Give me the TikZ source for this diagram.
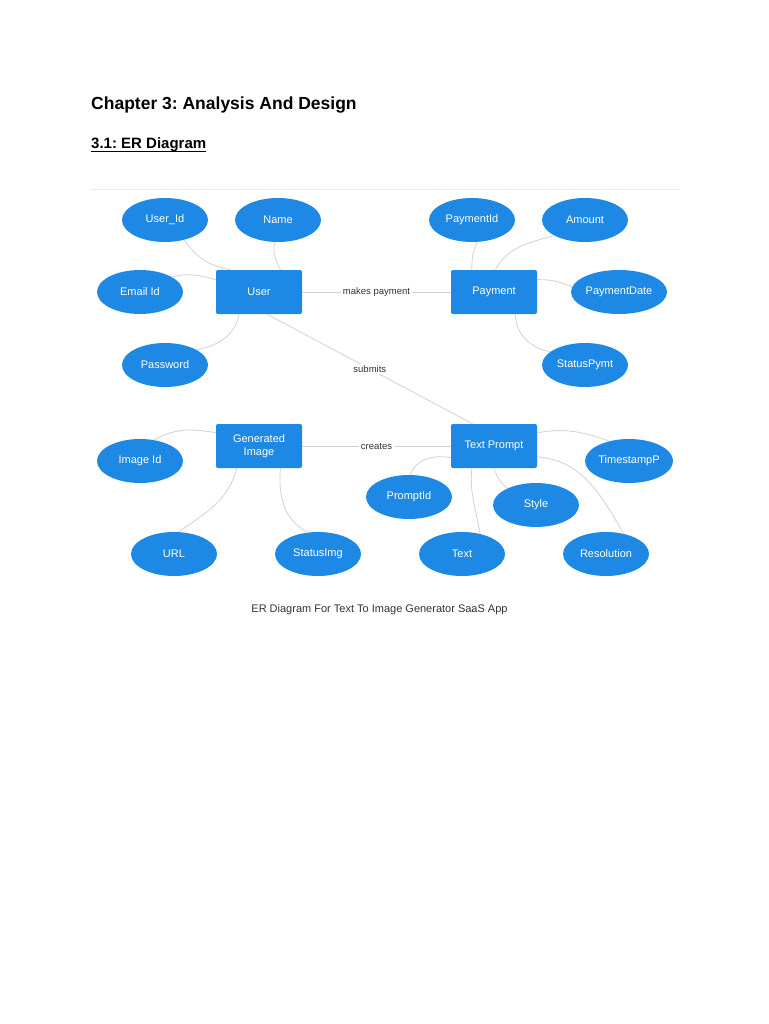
\documentclass[tikz,border=0pt]{standalone}
\usepackage{fontspec}
\setmainfont{Liberation Sans}
\usetikzlibrary{shapes.geometric}
\definecolor{erblue}{HTML}{1E88E5}
\definecolor{conline}{HTML}{D2D2D2}
\definecolor{rulecol}{HTML}{FBE8D4}
\definecolor{labgray}{HTML}{333333}
\frenchspacing

\begin{document}
\begin{tikzpicture}[x=1pt,y=-1pt,
	ent/.style={fill=erblue,text=white,rounded corners=2pt,minimum width=86pt,minimum height=44pt,inner sep=0pt,align=center,font=\fontsize{11}{13}\selectfont},
	attr/.style={ellipse,fill=erblue,text=white,minimum height=44pt,inner sep=0pt,font=\fontsize{11}{13}\selectfont},
	con/.style={draw=conline,line width=0.8pt},
	rel/.style={fill=white,text=labgray,inner sep=1.5pt,font=\fontsize{9.5}{11}\selectfont}]
			\useasboundingbox[fill=white] (0,0) rectangle (768,1024);
			%headings
			\node[anchor=base west,inner sep=0pt,font=\fontsize{17.5}{21}\selectfont\bfseries] (chap) at (91,110) {Chapter 3: Analysis And Design};
			\node[anchor=base west,inner sep=0pt,font=\fontsize{15}{18}\selectfont\bfseries] (sec) at (91,149) {3.1: ER Diagram};
			\draw[line width=1.2pt] (sec.base west) ++(0,2.5) -- ([yshift=-2.5pt]sec.base east);
			\draw[rulecol,line width=0.8pt] (90,189) -- (680,189);
			
			%entities
			\node[ent] (user) at (259,292) {User};
			\node[ent] (pay) at (494,292) {Payment};
			\node[ent] (gi) at (259,446) {Generated\\Image};
			\node[ent] (tp) at (494,446) {Text Prompt};
			
			%attributes
			\foreach \nm/\px/\py/\ew/\txt in {uid/165/220/86/User\_Id, name/278/220/86/Name, mail/140/292/86/Email Id, pwd/165/365/86/Password,
				pid/472/220/86/PaymentId, amt/585/220/86/Amount, pdate/619/292/96/PaymentDate, pstat/585/365/86/StatusPymt,
				iid/140/461/86/Image Id, url/174/554/86/URL, istat/318/554/86/StatusImg,
				ts/629/461/88/TimestampP, prid/409/497/86/PromptId, sty/536/505/86/Style, txt/462/554/86/Text, res/606/554/86/Resolution}{
				\node[attr,minimum width=\ew pt] (\nm) at (\px,\py) {\txt};
			}
			
			%relations
			\draw[con] (user) -- node[rel] (mkp) {makes payment} (pay);
			\draw[con] (user.-70) -- node[rel] (sub) {submits} (tp.134);
			\draw[con] (gi) -- node[rel] (cre) {creates} (tp);
			
			%user
			\draw[con] (uid.-46) to[out=-55,in=170] (user.142);
			\draw[con] (name.-98) to[out=-105,in=115] (user.46);
			\draw[con] (mail.25) to[out=15,in=165] (user.164);
			\draw[con] (pwd.26) to[out=10,in=-100] (user.-132);
			%payment
			\draw[con] (pid.-77) to[out=-115,in=90] (pay.135);
			\draw[con] (amt.-153) to[out=195,in=60] (pay.87);
			\draw[con] (pay.16) to[out=0,in=155] (pdate.174);
			\draw[con] (pay.-46) to[out=-90,in=170] (pstat.159);
			%generated image
			\draw[con] (gi.163) to[out=170,in=30] (iid.56);
			\draw[con] (gi.-135) to[out=-105,in=35] (url.78);
			\draw[con] (gi.-46) to[out=-95,in=155] (istat.114);
			%text prompt
			\draw[con] (tp.17) to[out=10,in=160] (ts.135);
			\draw[con] (tp.195) to[out=170,in=70] (prid.87);
			\draw[con] (tp.-90) to[out=-70,in=140] (sty.150);
			\draw[con] (tp.-135) to[out=-95,in=100] (txt.48);
			\draw[con] (tp.-14) to[out=-5,in=120] (res.49);
			
			%caption
			\node[anchor=base,inner sep=0pt,text=labgray,font=\fontsize{11}{13}\selectfont] (cap) at (379.5,612) {ER Diagram For Text To Image Generator SaaS App};
\end{tikzpicture}
\end{document}
